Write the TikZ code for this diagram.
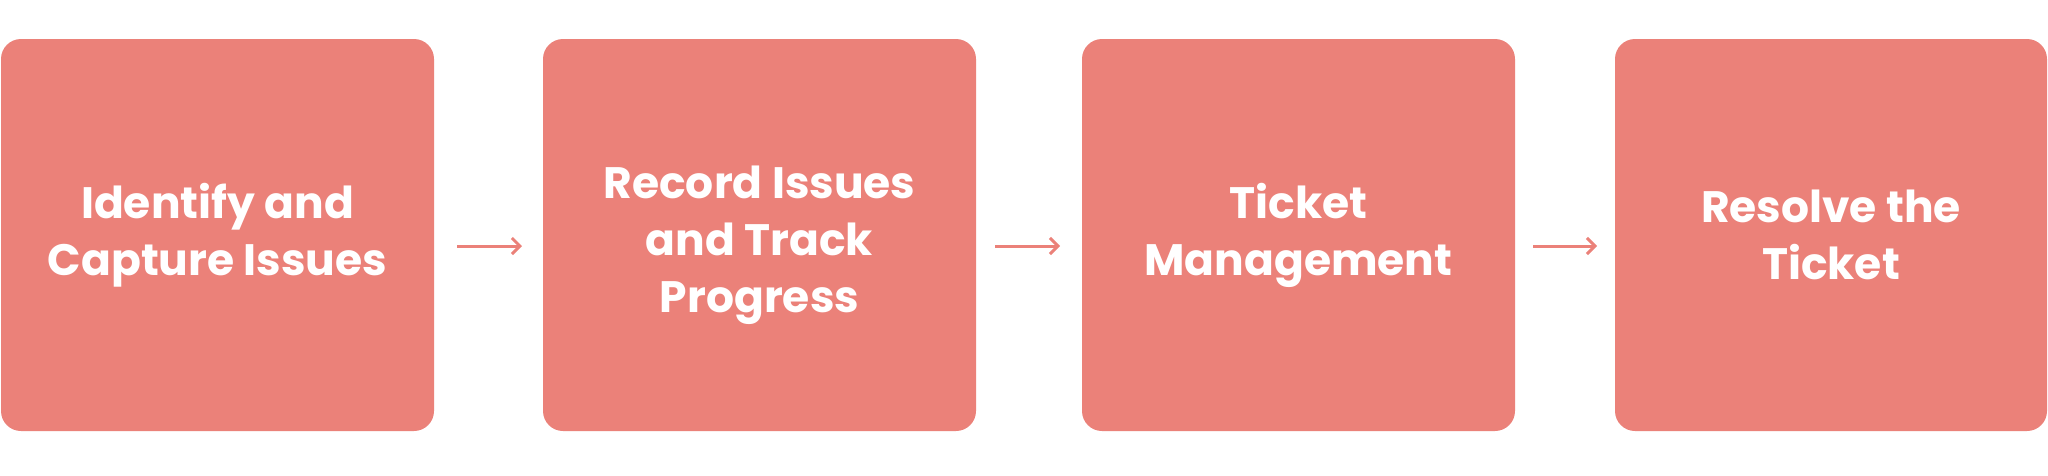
\documentclass[tikz,border=0pt]{standalone}
\usepackage{fontspec}
\setmainfont{Poppins}
\usetikzlibrary{arrows.meta,calc}
\definecolor{boxc}{HTML}{EB8179}
\begin{document}
\begin{tikzpicture}[x=1pt,y=-1pt,
  box/.style={fill=boxc,rounded corners=20pt,inner sep=0pt},
  lbl/.style={text=white,font=\fontsize{44}{57}\selectfont\bfseries,align=center},
  arr/.style={draw=boxc,line width=3pt,-{Straight Barb[length=8pt,width=16pt,line width=3pt]}}]
\useasboundingbox (0,0) rectangle (2048,475);
\fill[box] (1,39) rectangle (434,431); \coordinate (b1) at (217.5,235);
\fill[box] (543,39) rectangle (976,431); \coordinate (b2) at (759.5,245);
\fill[box] (1082,39) rectangle (1515,431); \coordinate (b3) at (1298.5,235);
\fill[box] (1615,39) rectangle (2047,431); \coordinate (b4) at (1831,235);
\node[lbl] (t1) at (b1) {Identify and\\Capture Issues};
\node[lbl] (t2) at (b2) {Record Issues\\and Track\\Progress};
\node[lbl] (t3) at (b3) {Ticket\\Management};
\node[lbl] (t4) at (b4) {Resolve the\\Ticket};
\coordinate (a1s) at (457,246); \coordinate (a1e) at (522,246);
\coordinate (a2s) at (995,246); \coordinate (a2e) at (1060,246);
\coordinate (a3s) at (1533,246); \coordinate (a3e) at (1597,246);
\draw[arr] (a1s) -- (a1e);
\draw[arr] (a2s) -- (a2e);
\draw[arr] (a3s) -- (a3e);
\end{tikzpicture}
\end{document}
